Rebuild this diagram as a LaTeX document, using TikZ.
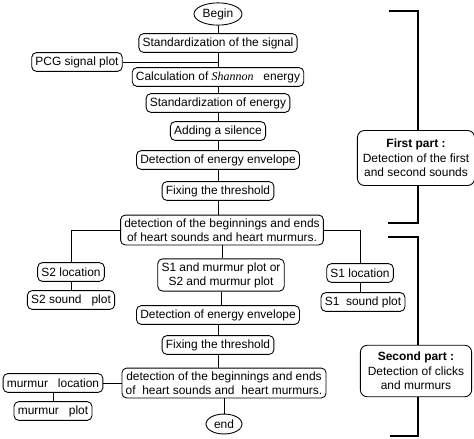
\documentclass[tikz,border=0pt]{standalone}
\usepackage{fontspec}
\setmainfont{Liberation Sans}
\newfontfamily\shannonfont{Liberation Serif}
\usetikzlibrary{shapes.geometric}

\begin{document}
\begin{tikzpicture}[
    x=0.03cm, y=-0.03cm,
    every node/.style={font=\fontsize{10.2}{12}\selectfont},
    stepbox/.style={rectangle, rounded corners=4pt, draw, line width=0.75pt, fill=white, minimum height=16pt, inner xsep=3.2pt, inner ysep=3pt, align=center},
    term/.style={ellipse, draw, line width=0.75pt, fill=white, inner sep=1pt},
    partbox/.style={rectangle, rounded corners=6pt, draw, line width=0.75pt, fill=white, align=center, font=\fontsize{10.2}{12.5}\selectfont},
    link/.style={line width=0.75pt},
    bracket/.style={line width=2.4pt},
]
\useasboundingbox (0,0) rectangle (474,438);
% main column
\node[term, minimum width=41pt, minimum height=19pt] (begin) at (218,14) {Begin};
\node[stepbox] (stdsig) at (218,43) {Standardization of the signal};
\node[stepbox] (pcg) at (77,62) {PCG signal plot};
\node[stepbox] (shannon) at (218,77) {Calculation of {\shannonfont\itshape Shannon}\ \ \ energy};
\node[stepbox] (stdeng) at (218,103) {Standardization of energy};
\node[stepbox] (silence) at (218,131) {Adding a silence};
\node[stepbox] (env1) at (218,160) {Detection of energy envelope};
\node[stepbox] (thr1) at (218,191) {Fixing the threshold};
\node[stepbox] (det1) at (222,230) {detection of the beginnings and ends\\of heart sounds and heart murmurs.};
% branches
\node[stepbox] (s2loc) at (71,272) {S2 location};
\node[stepbox] (s2plot) at (71,300) {S2 sound\ \ \ plot};
\node[stepbox] (s1loc) at (360,273) {S1 location};
\node[stepbox] (s1plot) at (363,302) {S1\ \ sound plot};
\node[stepbox] (mplot) at (221,275) {S1 and murmur plot or\\S2 and murmur plot};
\node[stepbox] (env2) at (218,315) {Detection of energy envelope};
\node[stepbox] (thr2) at (218,345) {Fixing the threshold};
\node[stepbox] (det2) at (224,383) {detection of the beginnings and ends\\of\ \ heart sounds and\ \ heart murmurs.};
\node[stepbox] (mloc) at (53,383) {murmur\ \ \ location};
\node[stepbox] (mplt) at (53,411) {murmur\ \ \ plot};
\node[term, minimum width=31pt, minimum height=17pt] (stop) at (224,424) {end};
% connectors
\foreach \a/\b in {begin/stdsig, stdsig/shannon, shannon/stdeng, stdeng/silence, silence/env1, env1/thr1, thr1/det1, det1/mplot, mplot/env2, env2/thr2, thr2/det2, det2/stop}
    \draw[link] (\a.south) -- (\a.south |- \b.north);
\draw[link] (pcg.east) -- (pcg.east -| stdsig.south);
\draw[link] (det1.west) -| (s2loc.north);
\draw[link] (det1.east) -| (s1loc.north);
\draw[link] (s2loc) -- (s2plot);
\draw[link] (s1loc.south) -- (s1loc.south |- s1plot.north);
\draw[link] (mloc) -- (det2);
\draw[link] (mloc) -- (mplt);
% brackets
\coordinate (b1top) at (389,11);
\coordinate (b1corner) at (418,223);
\coordinate (b1end) at (388,223);
\coordinate (b2top) at (388,237);
\coordinate (b2corner) at (418,436);
\coordinate (b2end) at (390,436);
\draw[bracket] (b1top) -| (b1corner) -- (b1end);
\draw[bracket] (b2top) -| (b2corner) -- (b2end);
\node[partbox, minimum width=100pt, minimum height=47pt] (part1) at (416,158) {\textbf{First part :}\\Detection of the first\\and second sounds};
\node[partbox, minimum width=95pt, minimum height=44pt] (part2) at (416,371) {\textbf{Second part :}\\Detection of clicks\\and murmurs};
\end{tikzpicture}
\end{document}
